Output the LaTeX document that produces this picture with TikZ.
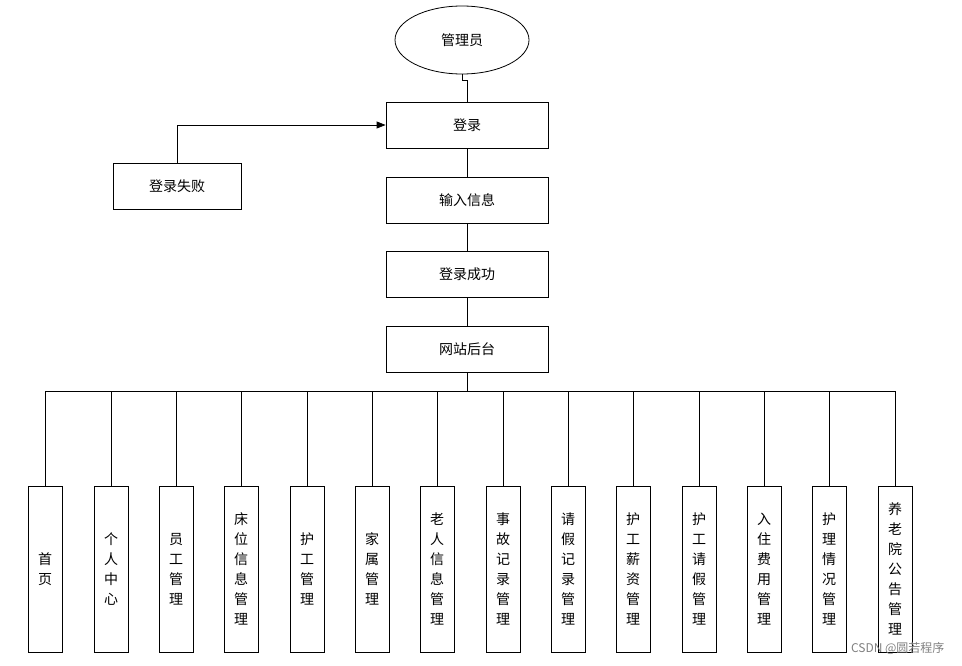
\documentclass[tikz,border=0pt]{standalone}
\usepackage{fontspec}
\setmainfont{Noto Sans CJK SC}
\usetikzlibrary{shapes.geometric,arrows.meta}
\tikzset{
 box/.style={draw,thick,minimum width=162pt,minimum height=46pt,font=\fontsize{14}{16}\selectfont},
 vbox/.style={draw,thick,minimum width=34pt,minimum height=166pt,align=center,font=\fontsize{14}{20}\selectfont},
 ln/.style={thick}
}
\begin{document}
\begin{tikzpicture}[x=1pt,y=-1pt]
\useasboundingbox (0,0) rectangle (962,666);
\node[draw,thick,ellipse,minimum width=134pt,minimum height=68pt,font=\fontsize{14}{16}\selectfont] (adm) at (462,40) {管理员};
\node[box] (login) at (467,125) {登录};
\node[box] (input) at (467,200) {输入信息};
\node[box] (ok) at (467,274) {登录成功};
\node[box] (back) at (467,349) {网站后台};
\node[draw,thick,minimum width=128pt,minimum height=46pt,font=\fontsize{14}{16}\selectfont] (fail) at (177,186) {登录失败};
\draw[ln] (adm.south) -- ++(0,6) -| (login.north);
\draw[ln] (login) -- (input);
\draw[ln] (input) -- (ok);
\draw[ln] (ok) -- (back);
\draw[ln,-{Triangle[length=9pt,width=7pt]}] (fail.north) |- (login.west);
\coordinate (bus) at (467,391);
\foreach \x/\t [count=\i] in {45/{首\\页},111/{个\\人\\中\\心},176/{员\\工\\管\\理},241/{床\\位\\信\\息\\管\\理},307/{护\\工\\管\\理},372/{家\\属\\管\\理},437/{老\\人\\信\\息\\管\\理},503/{事\\故\\记\\录\\管\\理},568/{请\\假\\记\\录\\管\\理},633/{护\\工\\薪\\资\\管\\理},699/{护\\工\\请\\假\\管\\理},764/{入\\住\\费\\用\\管\\理},829/{护\\理\\情\\况\\管\\理},895/{养\\老\\院\\公\\告\\管\\理}}{
 \node[vbox] (v\i) at (\x,569) {\t};
 \draw[ln] (\x,391) -- (v\i.north);
}
\draw[ln] (45,391) -- (895,391);
\draw[ln] (back.south) -- (bus);
\node[anchor=east,text=gray,font=\fontsize{12}{14}\selectfont] (wm) at (948,648) {CSDN @圆若程序};
\end{tikzpicture}
\end{document}
